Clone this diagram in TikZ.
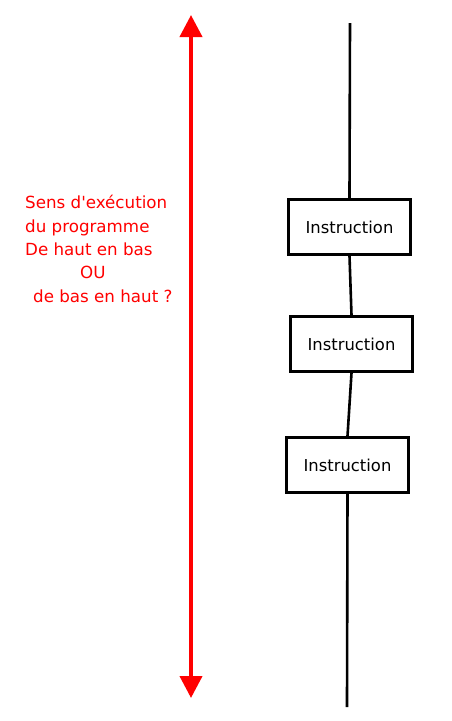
\documentclass[tikz,border=0pt]{standalone}
\usepackage{fontspec}
\setmainfont{DejaVu Sans}[Ligatures=TeXOff]
\usetikzlibrary{arrows.meta}

\begin{document}
\begin{tikzpicture}[x=1pt, y=-1pt]
            \tikzset{
                instrbox/.style={draw=black, line width=3pt, fill=white,
                    minimum width=122pt, minimum height=55pt, inner sep=0pt,
                    font=\fontsize{16.4}{19}\selectfont},
                fil/.style={black, line width=2.6pt},
                sens/.style={red, anchor=base west, inner sep=0pt,
                    font=\fontsize{16.7}{20}\selectfont}
            }
            \useasboundingbox (0,0) rectangle (452,721);

            % fil du programme
            \coordinate (debut) at (350,23);
            \coordinate (fin) at (347,707);
            \node[instrbox] (instr1) at (349.5,227) {Instruction};
            \node[instrbox] (instr2) at (351.5,344) {Instruction};
            \node[instrbox] (instr3) at (347.5,465) {Instruction};

            \draw[fil] (debut) -- (instr1.north);
            \draw[fil] (instr1.south) -- (instr2.north);
            \draw[fil] (instr2.south) -- (instr3.north);
            \draw[fil] (instr3.south) -- (fin);

            % double fleche rouge
            \coordinate (haut) at (191,15);
            \coordinate (bas) at (191,698);
            \draw[red, line width=4pt,
                {Triangle[width=22pt,length=22pt]}-{Triangle[width=22pt,length=22pt]}]
                (haut) -- (bas);

            \foreach \n/\x/\y/\t in {1/25/208/{Sens d'exécution},
                                     2/25/232/{du programme},
                                     3/25/255/{De haut en bas},
                                     4/80/278/{OU},
                                     5/33/302/{de bas en haut ?}} {
                \node[sens] (sens\n) at (\x,\y) {\t};
            }
        \end{tikzpicture}
\end{document}
